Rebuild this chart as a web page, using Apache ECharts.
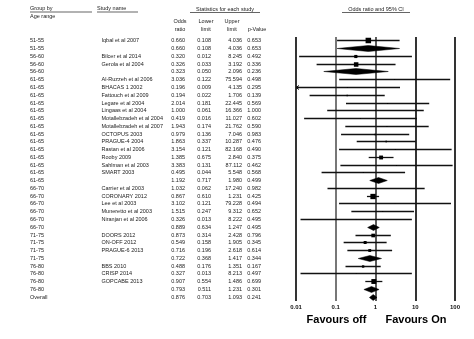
<!DOCTYPE html>
<html><head><meta charset="utf-8">
<script src="https://cdn.jsdelivr.net/npm/echarts@6/dist/echarts.min.js"></script>
<style>html,body{margin:0;padding:0;background:#fff}#c{width:474px;height:339px}</style>
</head><body><div id="c"></div>
<script>
const ageGroups = ['51-55','51-55','56-60','56-60','56-60','61-65','61-65','61-65','61-65','61-65','61-65','61-65','61-65','61-65','61-65','61-65','61-65','61-65','61-65','66-70','66-70','66-70','66-70','66-70','66-70','71-75','71-75','71-75','71-75','76-80','76-80','76-80','76-80','Overall'];
const studyNames = ['Iqbal et al 2007','','Bilcer et al 2014','Gerola et al 2004','','Al-Ruzzeh et al 2006','BHACAS 1 2002','Fattouch et al 2009','Legare et al 2004','Lingaas et al 2004','Motallebzadeh et al 2004','Motallebzadeh et al 2007','OCTOPUS 2003','PRAGUE-4 2004','Rastan et al 2006','Rooby 2009','Sahlman et al 2003','SMART 2003','','Carrier et al 2003','CORONARY 2012','Lee et al 2003','Muneretto et al 2003','Niranjan et al 2006','','DOORS 2012','ON-OFF 2012','PRAGUE-6 2013','','BBS 2010','CRISP 2014','GOPCABE 2013','',''];
const oddsRatio = [0.660,0.660,0.320,0.326,0.323,3.036,0.196,0.194,2.014,1.000,0.419,1.943,0.979,1.863,3.154,1.385,3.383,0.495,1.192,1.032,0.867,3.102,1.515,0.326,0.889,0.873,0.549,0.716,0.722,0.488,0.327,0.907,0.793,0.876];
const lowerLimit = [0.108,0.108,0.012,0.033,0.050,0.122,0.009,0.022,0.181,0.061,0.016,0.174,0.136,0.337,0.121,0.675,0.131,0.044,0.717,0.062,0.610,0.121,0.247,0.013,0.634,0.314,0.158,0.196,0.368,0.176,0.013,0.554,0.511,0.703];
const upperLimit = [4.036,4.036,8.245,3.192,2.096,75.594,4.135,1.706,22.445,16.366,11.027,21.762,7.046,10.287,82.168,2.840,87.112,5.548,1.980,17.240,1.231,79.228,9.312,8.222,1.247,2.428,1.905,2.618,1.417,1.351,8.213,1.486,1.231,1.093];
const pValues = [0.653,0.653,0.492,0.336,0.236,0.498,0.295,0.139,0.569,1.000,0.602,0.590,0.983,0.476,0.490,0.375,0.462,0.568,0.499,0.982,0.425,0.494,0.652,0.495,0.495,0.796,0.345,0.614,0.344,0.167,0.497,0.699,0.301,0.241];
const xTickLabels = ['0.01','0.1','1','10','100'];

const FONT = 'Arial, "Liberation Sans", sans-serif';
const rowIds = ageGroups.map((_, i) => String(i));
const isSummary = studyNames.map((s) => s === '');

// study weights (inverse variance from CI), relative within age group
const w = oddsRatio.map((_, i) => {
  const se = (Math.log(upperLimit[i]) - Math.log(lowerLimit[i])) / 3.92;
  return 1 / (se * se);
});
const groupTotal = {};
ageGroups.forEach((g, i) => { if (!isSummary[i]) groupTotal[g] = (groupTotal[g] || 0) + w[i]; });
const relWeight = w.map((v, i) => isSummary[i] ? 0 : v / groupTotal[ageGroups[i]]);

const seriesData = oddsRatio.map((v, i) => [i, v, lowerLimit[i], upperLimit[i], relWeight[i], isSummary[i] ? 1 : 0]);

function labelAxis(offset, align, fmt) {
  return {
    type: 'category', data: rowIds, inverse: true, position: 'left', offset: offset, gridIndex: 0,
    axisLine: { show: false }, axisTick: { show: false }, splitLine: { show: false },
    axisLabel: { interval: 0, align: align, margin: 0, fontSize: 5.5, color: '#222', fontFamily: FONT,
      formatter: (v) => fmt(Number(v)) }
  };
}
const GL = 296;
const yAxes = [
  { type: 'category', data: rowIds, inverse: true, gridIndex: 0, show: true,
    axisLine: { show: false }, axisTick: { show: false }, axisLabel: { show: false }, splitLine: { show: false } },
  labelAxis(GL - 30, 'left', i => ageGroups[i]),
  labelAxis(GL - 101.5, 'left', i => studyNames[i]),
  labelAxis(GL - 185, 'right', i => oddsRatio[i].toFixed(3)),
  labelAxis(GL - 211, 'right', i => lowerLimit[i].toFixed(3)),
  labelAxis(GL - 242, 'right', i => upperLimit[i].toFixed(3)),
  labelAxis(GL - 261, 'right', i => pValues[i].toFixed(3))
];

function txt(text, x, y, align, extra) {
  return { type: 'text', x: x, y: y, style: Object.assign({ text: text, fontSize: 5.5, fontFamily: FONT, fill: '#222', align: align || 'left', verticalAlign: 'middle' }, extra || {}) };
}
function uline(x1, x2, y) {
  return { type: 'line', shape: { x1: x1, y1: y, x2: x2, y2: y }, style: { stroke: '#222', lineWidth: 0.7 } };
}

const chart = echarts.init(document.getElementById('c'), null, { renderer: 'canvas' });
chart.setOption({
  animation: false,
  backgroundColor: '#fff',
  grid: { left: GL, right: 19, top: 37, bottom: 38 },
  xAxis: {
    type: 'log', logBase: 10, min: 0.01, max: 100,
    axisLine: { show: false }, axisTick: { show: false },
    axisLabel: { fontSize: 6, fontWeight: 'bold', color: '#111', fontFamily: FONT, margin: 3,
      formatter: (v, i) => xTickLabels[i] },
    splitLine: { show: true, showMinLine: true, showMaxLine: true, lineStyle: { color: ['#000', '#555', '#333', '#000', '#000'], width: 1.6 } }
  },
  yAxis: yAxes,
  series: [{
    type: 'custom',
    xAxisIndex: 0, yAxisIndex: 0,
    encode: { x: 1, y: 0 },
    clip: false,
    z: 10,
    data: seriesData,
    renderItem: function (params, api) {
      const idx = api.value(0), or = api.value(1), lo = api.value(2), hi = api.value(3), rw = api.value(4), kind = api.value(5);
      const p = api.coord([or, idx]);
      const y = Math.round(p[1] - 0.5) + 0.5;
      const xmin = api.coord([0.01, idx])[0], xmax = api.coord([100, idx])[0];
      const xl = Math.max(api.coord([lo, idx])[0], xmin);
      const xh = Math.min(api.coord([hi, idx])[0], xmax);
      const children = [];
      if (kind === 1) {
        const h = 3;
        children.push({ type: 'polygon', shape: { points: [[xl, y], [p[0], y - h], [xh, y], [p[0], y + h]] }, style: { fill: '#000', stroke: '#000', lineWidth: 0.5 } });
      } else {
        children.push({ type: 'polyline', shape: { points: [[xl, y], [xh, y]] }, style: { stroke: '#111', lineWidth: 1.3, fill: null } });
        if (lo < 0.01) {
          children.push({ type: 'polyline', shape: { points: [[xmin + 3, y - 2], [xmin, y], [xmin + 3, y + 2]] }, style: { stroke: '#111', lineWidth: 1, fill: null } });
        }
        const s = 5.5 * Math.sqrt(rw);
        children.push({ type: 'rect', shape: { x: p[0] - s / 2, y: y - s / 2, width: s, height: s }, style: { fill: '#000' } });
      }
      return { type: 'group', children: children };
    }
  }],
  graphic: [
    txt('Group by', 30, 8),
    uline(30, 92, 12),
    txt('Age range', 30, 16),
    txt('Study name', 97, 8),
    uline(97, 138, 12),
    txt('Statistics for each study', 225, 9, 'center'),
    uline(190, 260, 12.5),
    txt('Odds', 180, 21, 'center'),
    txt('ratio', 180, 29, 'center'),
    txt('Lower', 206, 21, 'center'),
    txt('limit', 206, 29, 'center'),
    txt('Upper', 232, 21, 'center'),
    txt('limit', 232, 29, 'center'),
    txt('p-Value', 257, 29, 'center'),
    txt('Odds ratio and 95% CI', 376, 9, 'center'),
    uline(342, 410, 12.5),
    txt('Favours off', 336.5, 320, 'center', { fontSize: 11, fontWeight: 'bold', fill: '#000' }),
    txt('Favours On', 416, 320, 'center', { fontSize: 11, fontWeight: 'bold', fill: '#000' })
  ]
});
</script></body></html>
